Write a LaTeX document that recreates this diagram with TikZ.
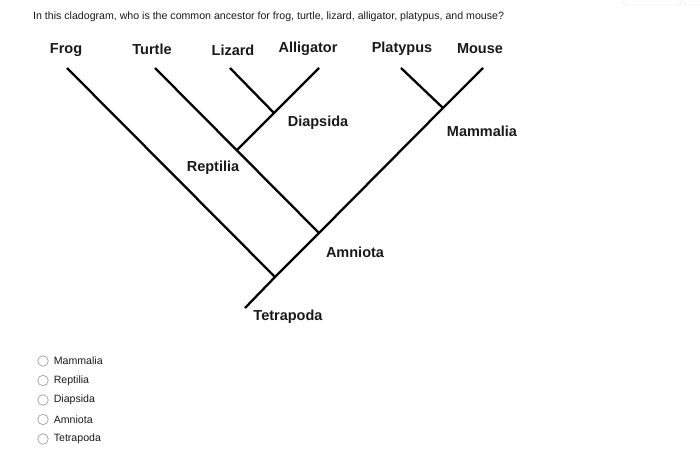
\documentclass[tikz,border=0pt]{standalone}
\usepackage{fontspec}
\setmainfont{Liberation Sans}
\usetikzlibrary{positioning}

\begin{document}
\begin{tikzpicture}[x=1pt,y=-1pt]
        \tikzstyle{every node}=[inner sep=0pt]
        \tikzstyle{taxon}=[font=\fontsize{14.5}{16}\selectfont\bfseries, text=black!90]
        \tikzstyle{branch}=[line width=2.3pt]
        \tikzstyle{radio}=[draw=gray!75, circle, minimum size=10.5pt, line width=0.7pt]
        \tikzstyle{choice}=[anchor=west, font=\fontsize{10.6}{12}\selectfont, text=black!90]

        \useasboundingbox (0,0) rectangle (700,460);

        % buttons cut off at the top
        \draw[gray!25, rounded corners=3pt] (623,-10) rectangle (681,5);
        \draw[gray!25, rounded corners=3pt] (684,-10) rectangle (730,5);

        \node (question) [choice] at (33,17) {In this cladogram, who is the common ancestor for frog, turtle, lizard, alligator, platypus, and mouse?};

        % tips
        \coordinate (frog)      at (67,68);
        \coordinate (turtle)    at (155,68);
        \coordinate (lizard)    at (230,68);
        \coordinate (alligator) at (319,68);
        \coordinate (platypus)  at (401,68);
        \coordinate (mouse)     at (483,68);

        % branch points
        \coordinate (root)  at (245,308);
        \coordinate (tetra) at (275,277);
        \coordinate (amnio) at (319,233);
        \coordinate (rept)  at (237,150);
        \coordinate (diap)  at (274,113);
        \coordinate (mamm)  at (443,108);

        \node (Frog)      [taxon] at (66,50)  {Frog};
        \node (Turtle)    [taxon] at (152,49) {Turtle};
        \node (Lizard)    [taxon] at (233,50) {Lizard};
        \node (Alligator) [taxon] at (308,49) {Alligator};
        \node (Platypus)  [taxon] at (402,49) {Platypus};
        \node (Mouse)     [taxon] at (480,49) {Mouse};

        \node (Diapsida)  [taxon] at (318,123) {Diapsida};
        \node (Mammalia)  [taxon] at (482,131) {Mammalia};
        \node (Reptilia)  [taxon] at (213,168) {Reptilia};
        \node (Amniota)   [taxon] at (355,252) {Amniota};
        \node (Tetrapoda) [taxon] at (288,317) {Tetrapoda};

        \draw[branch] (root) -- (tetra) -- (amnio) -- (mamm) -- (mouse);
        \draw[branch] (frog) -- (tetra);
        \draw[branch] (turtle) -- (amnio);
        \draw[branch] (rept) -- (diap) -- (alligator);
        \draw[branch] (lizard) -- (diap);
        \draw[branch] (platypus) -- (mamm);

        % answers
        \foreach \name [count=\i] in {Mammalia,Reptilia,Diapsida,Amniota,Tetrapoda} {
            \node (radio\i) [radio] at (43,{361+(\i-1)*19.5}) {};
            \node (answer\i) [choice, right=5pt of radio\i] {\name};
        }

\end{tikzpicture}
\end{document}
